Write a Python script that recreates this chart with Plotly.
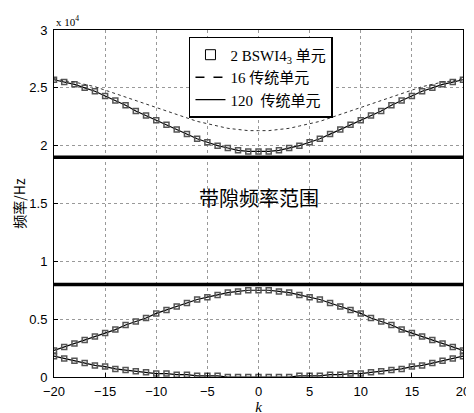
import plotly.graph_objects as go

# wave number k and frequencies (unit: 1e4 Hz)
k = list(range(-20, 21))
half_upper = [1.95, 1.95, 1.96, 1.98, 2.00, 2.03, 2.06, 2.10, 2.14, 2.18, 2.22,
              2.26, 2.30, 2.35, 2.39, 2.43, 2.47, 2.50, 2.53, 2.55, 2.57]
half_dashed = [2.13, 2.13, 2.14, 2.15, 2.17, 2.19, 2.21, 2.24, 2.27, 2.30, 2.33,
               2.36, 2.39, 2.42, 2.45, 2.48, 2.51, 2.53, 2.55, 2.56, 2.58]
half_second = [0.75, 0.75, 0.74, 0.73, 0.71, 0.69, 0.67, 0.64, 0.61, 0.58, 0.55,
               0.51, 0.48, 0.45, 0.41, 0.38, 0.35, 0.32, 0.29, 0.26, 0.23]
half_first = [0.00, 0.00, 0.00, 0.00, 0.01, 0.01, 0.01, 0.02, 0.02, 0.03, 0.03,
              0.04, 0.05, 0.06, 0.07, 0.09, 0.10, 0.12, 0.14, 0.16, 0.18]

# curves are symmetric in k
upper = half_upper[:0:-1] + half_upper
dashed = half_dashed[:0:-1] + half_dashed
second = half_second[:0:-1] + half_second
first = half_first[:0:-1] + half_first

gap_top = 1.9
gap_bottom = 0.8
x_ticks = [-20, -15, -10, -5, 0, 5, 10, 15, 20]
y_ticks = [0, 0.5, 1, 1.5, 2, 2.5, 3]

fig = go.Figure()

sq = dict(symbol='square-open', size=5, color='#555', line=dict(width=1.5, color='#555'))
for y in [upper, second, first]:
    fig.add_trace(go.Scatter(x=k, y=y, mode='lines+markers', line=dict(color='black', width=1.2),
                             marker=sq, showlegend=False))
fig.add_trace(go.Scatter(x=k, y=dashed, mode='lines', line=dict(color='#333', width=1, dash='dot'),
                         showlegend=False))

for yv in [gap_top, gap_bottom]:
    fig.add_trace(go.Scatter(x=[-20, 20], y=[yv, yv], mode='lines',
                             line=dict(color='black', width=3.5), showlegend=False))

# legend entries
fig.add_trace(go.Scatter(x=[None], y=[None], mode='markers', name='2 BSWI4<sub>3</sub> 单元',
                         marker=dict(symbol='square-open', size=10, color='black')))
fig.add_trace(go.Scatter(x=[None], y=[None], mode='lines', name='16 传统单元',
                         line=dict(color='black', width=1.5, dash='dash')))
fig.add_trace(go.Scatter(x=[None], y=[None], mode='lines', name='120  传统单元',
                         line=dict(color='black', width=1.2)))

fig.add_annotation(x=0, y=1.55, text='带隙频率范围', showarrow=False,
                   font=dict(size=20, color='black', family='Noto Sans CJK SC'))
fig.add_annotation(x=0, y=1, xref='paper', yref='paper', text='x 10<sup>4</sup>', showarrow=False,
                   xanchor='left', yanchor='bottom', font=dict(size=11, color='black'))

axis = dict(showline=True, linecolor='black', linewidth=1, mirror=True, ticks='inside',
            ticklen=4, tickcolor='black', showgrid=True, gridcolor='#999', griddash='dot',
            gridwidth=1, zeroline=False, tickfont=dict(size=13, color='black', family='Arial'))

fig.update_layout(
    width=474, height=413,
    margin=dict(l=42, r=12, t=22, b=44),
    plot_bgcolor='white', paper_bgcolor='white',
    font=dict(family='Liberation Serif, Noto Sans CJK SC', color='black'),
    xaxis=dict(axis, range=[-20, 20], tickvals=x_ticks, ticklabelstandoff=2,
               title=dict(text='<i>k</i>', standoff=0, font=dict(size=15))),
    yaxis=dict(axis, range=[0, 3], tickvals=y_ticks, ticktext=['0', '0.5', '1', '1.5', '2', '2.5', '3'],
               ticklabelstandoff=3,
               title=dict(text='频率/Hz', standoff=0, font=dict(size=14, family='Noto Sans CJK SC'))),
    legend=dict(x=0.33, y=0.98, xanchor='left', yanchor='top', bgcolor='white',
                bordercolor='black', borderwidth=1.5, font=dict(size=15), tracegroupgap=0,
                itemwidth=30),
)

fig.write_html("out.html")
